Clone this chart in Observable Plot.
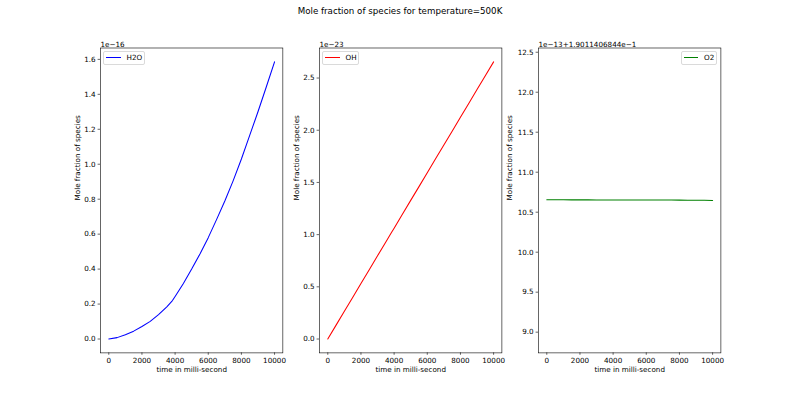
<!DOCTYPE html>
<html><head><meta charset="utf-8">
<script src="https://cdn.jsdelivr.net/npm/d3@7"></script>
<script src="https://cdn.jsdelivr.net/npm/@observablehq/plot@0.6"></script>
<style>
body{margin:0;background:#fff;}
#fig{position:relative;width:800px;height:396px;overflow:hidden;font-family:"DejaVu Sans",sans-serif;background:#fff;}
#fig > svg{position:absolute;top:0;}
.title{position:absolute;left:0;width:800px;top:7.4px;text-align:center;font-size:8.7px;line-height:1;color:#000;}
.leg{position:absolute;box-sizing:border-box;border:1px solid #dadada;border-radius:2px;background:rgba(255,255,255,0.8);font-size:7.2px;line-height:1;color:#000;}
.leg .tx{position:absolute;}
</style></head><body><div id="fig"></div>
<script>
// ---- data ----
const time = [0,500,1000,1500,2000,2500,3000,3500,3840,4000,4500,5000,5500,6000,6500,7000,7500,8000,8500,9000,9500,10000];
// H2O mole fraction, in units of 1e-16
const h2o = [0,0.008,0.025,0.045,0.072,0.101,0.140,0.184,0.220,0.243,0.318,0.400,0.487,0.580,0.683,0.790,0.905,1.030,1.165,1.300,1.442,1.586];
// OH mole fraction, in units of 1e-23
const oh = [0,0.133,0.266,0.398,0.531,0.664,0.797,0.929,1.020,1.062,1.195,1.328,1.460,1.593,1.726,1.859,1.991,2.124,2.257,2.390,2.522,2.655];
// O2 mole fraction, in units of 1e-13, offset by 1.9011406844e-1
const o2 = [10.655,10.6548,10.6545,10.6543,10.654,10.6538,10.6535,10.6533,10.6531,10.653,10.6528,10.6525,10.6523,10.652,10.6518,10.6515,10.6513,10.651,10.6505,10.65,10.6485,10.647];
const species = ["H2O","OH","O2"];
const colors = ["#0000ff","#ff0000","#008000"];
const offsetTexts = ["1e\u221216","1e\u221223","1e\u221213+1.9011406844e\u22121"];
const xTicks = [0,2000,4000,6000,8000,10000];
const yTicks1 = [0,0.2,0.4,0.6,0.8,1.0,1.2,1.4,1.6];
const yTicks2 = [0,0.5,1.0,1.5,2.0,2.5];
const yTicks3 = [9.0,9.5,10.0,10.5,11.0,11.5,12.0,12.5];
const titleText = "Mole fraction of species for temperature=500K";
const yLabel = "Mole fraction of species";
const xLabel = "time in milli-second";

// ---- layout ----
const FS = 7.2;
const fig = document.getElementById("fig");
const t = document.createElement("div"); t.className="title"; t.textContent=titleText; fig.appendChild(t);

const series = [h2o, oh, o2];
const panels = [
  {L:100, R:282.35, yDomain:[-0.0793,1.665], yTicks:yTicks1, ylabDx:-23.3, leg:{left:103,top:51,w:42,h:14,l1:2,l2:17,tx:22.5}},
  {L:318.8, R:501.2, yDomain:[-0.1328,2.7878], yTicks:yTicks2, ylabDx:-23.3, leg:{left:322,top:51,w:37,h:14,l1:2,l2:16.5,tx:22.5}},
  {L:537.6, R:720, yDomain:[8.741,12.553], yTicks:yTicks3, ylabDx:-28.4, leg:{left:681,top:51,w:36,h:14,l1:1.5,l2:16,tx:22}}
];
const ML = 60, MR = 150;
panels.forEach((p,i)=>{
  const rows = time.map((tt,j)=>({t:tt, v:series[i][j]}));
  const svg = Plot.plot({
    width: (p.R-p.L)+ML+MR, height: 396,
    marginLeft: ML, marginRight: MR, marginTop: 47.5, marginBottom: 43.6,
    style:{fontFamily:"DejaVu Sans", fontSize:FS+"px", color:"#000", background:"transparent", overflow:"visible"},
    x:{domain:[-500,10500]},
    y:{domain:p.yDomain},
    marks:[
      Plot.axisX({ticks:xTicks, tickSize:2.4, tickPadding:2.4, tickFormat:d=>String(d), label:null, strokeWidth:0.6}),
      Plot.axisY({ticks:p.yTicks, tickSize:2.4, tickPadding:2.4, tickFormat:d3.format(".1f"), label:null, strokeWidth:0.6}),
      Plot.line(rows, {x:"t", y:"v", stroke:colors[i], strokeWidth:1.05}),
      Plot.frame({stroke:"#000", strokeWidth:0.6}),
      Plot.text([yLabel], {text:d=>d, frameAnchor:"left", dx:p.ylabDx, rotate:-90, fontSize:FS, fill:"#000"}),
      Plot.text([xLabel], {text:d=>d, frameAnchor:"bottom", dy:19, fontSize:FS, fill:"#000"}),
      Plot.text([offsetTexts[i]], {text:d=>d, frameAnchor:"top-left", dy:-6, textAnchor:"start", fontSize:FS, fill:"#000"})
    ]
  });
  svg.style.left = (p.L-ML)+"px";
  fig.appendChild(svg);
  const lg = document.createElement("div"); lg.className="leg";
  lg.style.left = p.leg.left+"px"; lg.style.top = p.leg.top+"px";
  lg.style.width = p.leg.w+"px"; lg.style.height = p.leg.h+"px";
  const ln = document.createElement("div");
  ln.setAttribute("style", "position:absolute;left:"+p.leg.l1+"px;top:5px;width:"+(p.leg.l2-p.leg.l1)+"px;height:1px;background-color:"+colors[i]+";");
  const tx = document.createElement("div"); tx.className="tx"; tx.textContent=species[i];
  tx.style.left = p.leg.tx+"px"; tx.style.top = "2px";
  lg.appendChild(ln); lg.appendChild(tx); fig.appendChild(lg);
});
</script></body></html>
